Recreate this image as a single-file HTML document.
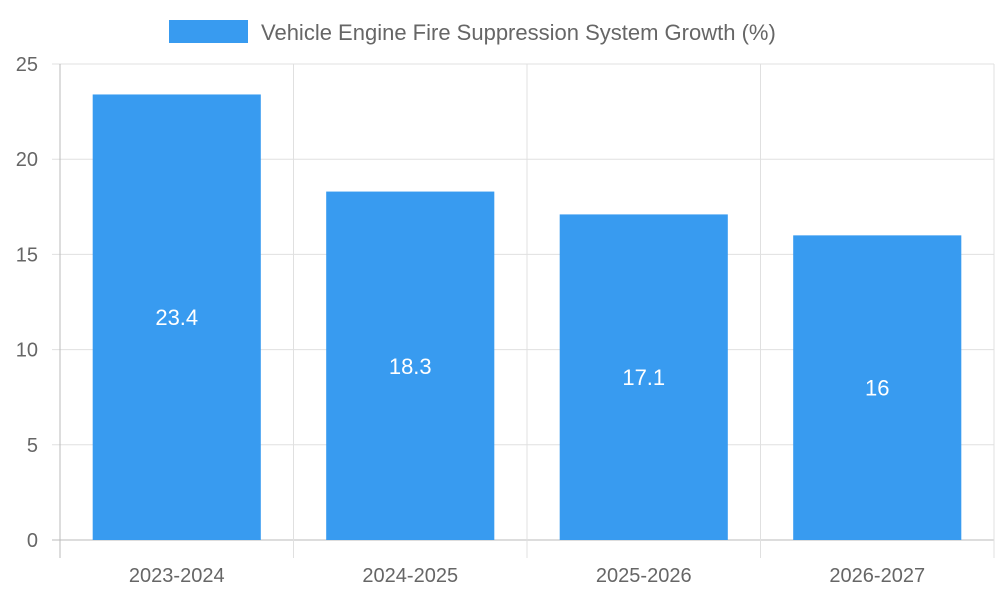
<!DOCTYPE html>
<html><head><meta charset="utf-8"><style>
body{margin:0;background:#fff;}
svg{display:block;font-family:"Liberation Sans",Arial,sans-serif;}
</style></head><body>
<svg id="chart" width="1000" height="600">
<g>
<rect x="169" y="20" width="79" height="23" fill="#389bf0"/>
<text x="261" y="40" font-size="22" fill="#666">Vehicle Engine Fire Suppression System Growth (%)</text>
</g>
<g id="grid"></g>
<g id="bars"></g>
<g id="axes"></g>
</svg>
<script>
const categories = ["2023-2024","2024-2025","2025-2026","2026-2027"];
const values = [23.4, 18.3, 17.1, 16];
const yTicks = [0,5,10,15,20,25];
const NS="http://www.w3.org/2000/svg";
const L=60,R=994,T=64,B=540,yMax=25;
const bw=(R-L)/categories.length;
const y=v=>B-(v/yMax)*(B-T);
const xC=i=>L+bw*i+bw/2;
function mk(tag,attrs,parent,text){const e=document.createElementNS(NS,tag);for(const k in attrs)e.setAttribute(k,attrs[k]);if(text!==undefined)e.textContent=text;parent.appendChild(e);return e;}
const grid=document.getElementById('grid'),bars=document.getElementById('bars'),axes=document.getElementById('axes');
yTicks.forEach(t=>{
  const ln=mk('line',{x1:L-8,x2:R,y1:y(t),y2:y(t),stroke:t===0?'#bbb':'#e0e0e0','stroke-width':1},grid);
  
  
  const tx=mk('text',{x:L-22,y:y(t)+7,'text-anchor':'end','font-size':20,fill:'#666'},axes,String(t));
  
  
});
for(let i=0;i<=categories.length;i++){
  const x=L+bw*i;
  const ln=mk('line',{x1:x,x2:x,y1:T,y2:B+18,stroke:i===0?'#bbb':'#e0e0e0','stroke-width':1},grid);
  
  
}
categories.forEach((c,i)=>{
  const w=bw*0.72, v=values[i];
  const r=mk('rect',{x:xC(i)-w/2,y:y(v),width:w,height:B-y(v),fill:'#389bf0'},bars);
  
  
  const vl=mk('text',{x:xC(i),y:(y(v)+B)/2+8,'text-anchor':'middle','font-size':22,fill:'#fff'},bars,String(v));
  
  
  const xl=mk('text',{x:xC(i),y:582,'text-anchor':'middle','font-size':20,fill:'#666'},axes,c);
  
  
});
</script>
</body></html>
